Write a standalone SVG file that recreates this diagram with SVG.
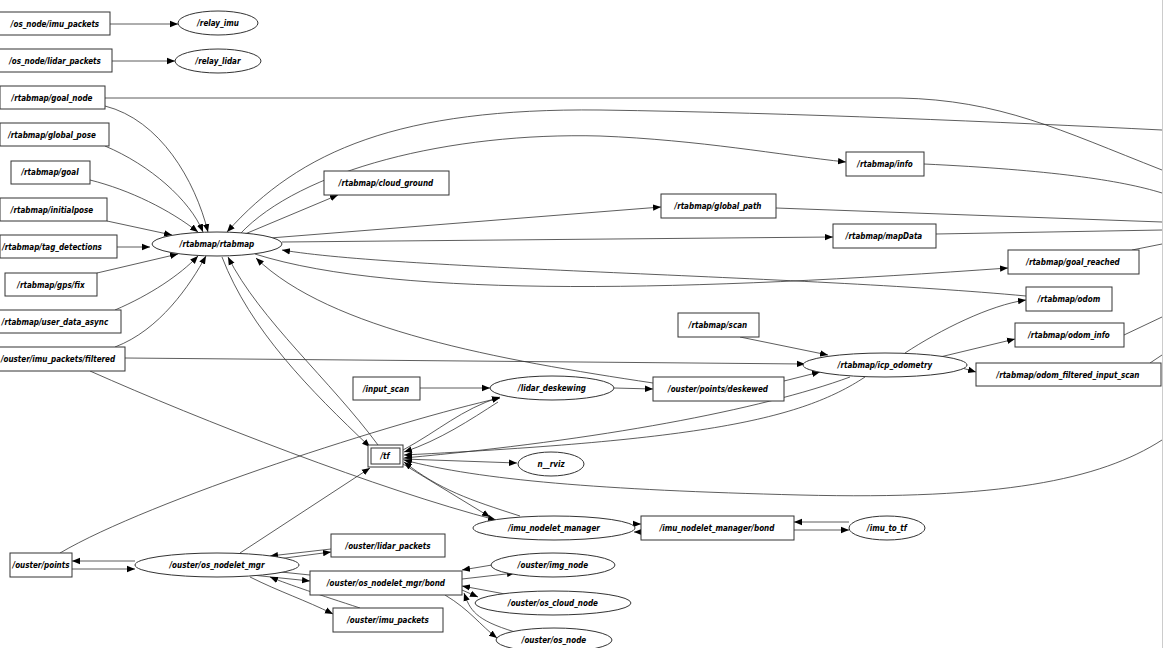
<svg xmlns="http://www.w3.org/2000/svg" width="1166" height="648" viewBox="0 0 1166 648">
<defs>
<marker id="a" viewBox="0 0 10 10" refX="10" refY="5" markerWidth="8" markerHeight="8" markerUnits="userSpaceOnUse" orient="auto"><path d="M0,1 L10,5 L0,9 z" fill="#000"/></marker>
<style>
.n rect,.n ellipse{fill:#fff;stroke:#333;stroke-width:1}
.n text{font-family:"DejaVu Sans Condensed","DejaVu Sans",sans-serif;font-size:8px;font-weight:bold;font-style:italic;text-anchor:middle;dominant-baseline:central;fill:#000}
#edges path{fill:none;stroke:#333;stroke-width:0.8}
.m{marker-end:url(#a)}
</style>
</defs>
<rect width="1166" height="648" fill="#fff"/>
<line x1="1162.5" y1="0" x2="1162.5" y2="648" stroke="#ccc"/>
<g id="edges">
<path class="m" d="M110,24 L178,24"/>
<path class="m" d="M112,61 L175,61"/>
<path class="m" d="M105,106 C160,120 195,180 208,232"/>
<path d="M105,98 L900,98 C1000,100 1060,130 1162,170"/>
<path class="m" d="M105,146 C150,165 190,200 203,232"/>
<path class="m" d="M90,180 C130,190 170,210 198,232"/>
<path class="m" d="M107,221 L172,235"/>
<path class="m" d="M117,247 L150,247"/>
<path class="m" d="M97,273 L178,254"/>
<path class="m" d="M115,310 C150,295 180,275 198,256"/>
<path class="m" d="M115,347 C160,330 190,285 206,256"/>
<path class="m" d="M125,358 L805,364"/>
<path class="m" d="M90,371 C200,420 380,490 496,520"/>
<path class="m" d="M1162,130 C1000,122 800,113 600,110 C400,108 300,150 227,232"/>
<path class="m" d="M245,234 L338,195"/>
<path class="m" d="M240,234 C300,170 450,132 600,136 C700,140 780,155 846,162"/>
<path d="M924,164 C1050,170 1120,180 1162,193"/>
<path class="m" d="M270,238 L661,207"/>
<path d="M776,208 L1162,222"/>
<path class="m" d="M282,242 L833,237"/>
<path d="M936,234 L1162,230"/>
<path class="m" d="M255,254 C400,300 700,290 1008,268"/>
<path d="M1132,250 L1162,244"/>
<path class="m" d="M1026,296 C800,275 400,270 282,250"/>
<path class="m" d="M905,353 C940,330 990,305 1026,300"/>
<path class="m" d="M940,357 L1015,339"/>
<path d="M1124,335 L1162,317"/>
<path class="m" d="M962,368 L976,372"/>
<path d="M1150,363 L1162,355"/>
<path class="m" d="M740,337 L828,355"/>
<path class="m" d="M653,383 C500,360 330,330 256,258"/>
<path class="m" d="M784,381 L820,372"/>
<path class="m" d="M420,388 L490,388"/>
<path class="m" d="M614,388 L653,389"/>
<path class="m" d="M378,445 C330,380 260,320 228,257"/>
<path class="m" d="M222,257 C250,330 310,390 370,447"/>
<path class="m" d="M403,450 C440,430 460,410 500,397"/>
<path class="m" d="M498,402 C470,420 440,440 404,452"/>
<path class="m" d="M865,377 C800,420 700,440 404,455"/>
<path class="m" d="M850,377 C760,410 600,440 404,458"/>
<path class="m" d="M403,459 L517,463"/>
<path class="m" d="M1162,440 C1100,480 1000,500 800,495 C600,490 480,480 404,460"/>
<path class="m" d="M403,464 L490,517"/>
<path class="m" d="M520,516 C470,500 440,490 404,462"/>
<path class="m" d="M635,524 L641,524"/>
<path class="m" d="M641,532 L634,532"/>
<path class="m" d="M849,522 L794,522"/>
<path class="m" d="M794,530 L849,530"/>
<path class="m" d="M60,553 C150,500 400,420 500,398"/>
<path class="m" d="M240,553 L370,468"/>
<path class="m" d="M135,561 L72,561"/>
<path class="m" d="M72,569 L135,569"/>
<path class="m" d="M331,549 L270,556"/>
<path class="m" d="M270,560 L331,552"/>
<path class="m" d="M310,575 L242,568"/>
<path class="m" d="M242,574 L310,581"/>
<path class="m" d="M360,608 C320,595 290,585 270,577"/>
<path class="m" d="M250,577 C280,592 305,600 333,614"/>
<path class="m" d="M510,562 L462,570"/>
<path class="m" d="M462,579 L515,573"/>
<path class="m" d="M505,594 L462,586"/>
<path class="m" d="M462,590 L478,597"/>
<path class="m" d="M515,632 C475,620 470,610 464,593"/>
<path class="m" d="M445,595 C470,610 480,625 497,638"/>
</g>
<g id="n1" class="n"><rect x="-2" y="12" width="112" height="23"/><text x="55" y="24">/os_node/imu_packets</text></g>
<g id="n2" class="n"><rect x="-2" y="49" width="114" height="23"/><text x="55" y="61">/os_node/lidar_packets</text></g>
<g id="n3" class="n"><ellipse cx="218" cy="23" rx="40" ry="12"/><text x="218" y="23">/relay_imu</text></g>
<g id="n4" class="n"><ellipse cx="218" cy="61" rx="43" ry="12"/><text x="218" y="61">/relay_lidar</text></g>
<g id="n5" class="n"><rect x="0" y="86" width="105" height="23"/><text x="52" y="98">/rtabmap/goal_node</text></g>
<g id="n6" class="n"><rect x="0" y="123" width="109" height="23"/><text x="52" y="135">/rtabmap/global_pose</text></g>
<g id="n7" class="n"><rect x="11" y="161" width="79" height="23"/><text x="50" y="172">/rtabmap/goal</text></g>
<g id="n8" class="n"><rect x="0" y="198" width="107" height="23"/><text x="52" y="210">/rtabmap/initialpose</text></g>
<g id="n9" class="n"><rect x="0" y="235" width="117" height="23"/><text x="52" y="247">/rtabmap/tag_detections</text></g>
<g id="n10" class="n"><rect x="5" y="273" width="92" height="23"/><text x="51" y="285">/rtabmap/gps/fix</text></g>
<g id="n11" class="n"><rect x="-2" y="310" width="123" height="23"/><text x="55" y="322">/rtabmap/user_data_async</text></g>
<g id="n12" class="n"><rect x="-2" y="347" width="127" height="24"/><text x="58" y="359">/ouster/imu_packets/filtered</text></g>
<g id="n13" class="n"><ellipse cx="217" cy="244" rx="65" ry="12"/><text x="217" y="244">/rtabmap/rtabmap</text></g>
<g id="n14" class="n"><rect x="324" y="171" width="125" height="24"/><text x="386" y="183">/rtabmap/cloud_ground</text></g>
<g id="n15" class="n"><rect x="846" y="152" width="78" height="24"/><text x="885" y="164">/rtabmap/info</text></g>
<g id="n16" class="n"><rect x="661" y="194" width="115" height="24"/><text x="718" y="206">/rtabmap/global_path</text></g>
<g id="n17" class="n"><rect x="833" y="224" width="103" height="24"/><text x="884" y="236">/rtabmap/mapData</text></g>
<g id="n18" class="n"><rect x="1008" y="250" width="131" height="24"/><text x="1073" y="262">/rtabmap/goal_reached</text></g>
<g id="n19" class="n"><rect x="1026" y="287" width="86" height="24"/><text x="1069" y="299">/rtabmap/odom</text></g>
<g id="n20" class="n"><rect x="678" y="313" width="81" height="24"/><text x="718" y="325">/rtabmap/scan</text></g>
<g id="n21" class="n"><rect x="1015" y="323" width="109" height="24"/><text x="1069" y="335">/rtabmap/odom_info</text></g>
<g id="n22" class="n"><ellipse cx="885" cy="365" rx="82" ry="12"/><text x="885" y="365">/rtabmap/icp_odometry</text></g>
<g id="n23" class="n"><rect x="976" y="363" width="185" height="23"/><text x="1068" y="375">/rtabmap/odom_filtered_input_scan</text></g>
<g id="n24" class="n"><rect x="353" y="377" width="67" height="23"/><text x="386" y="389">/input_scan</text></g>
<g id="n25" class="n"><ellipse cx="552" cy="388" rx="62" ry="12"/><text x="552" y="388">/lidar_deskewing</text></g>
<g id="n26" class="n"><rect x="653" y="377" width="131" height="24"/><text x="718" y="389">/ouster/points/deskewed</text></g>
<g id="n27" class="n"><rect x="368" y="445" width="35" height="22"/><rect x="371" y="448" width="29" height="16"/><text x="385" y="456">/tf</text></g>
<g id="n28" class="n"><ellipse cx="551" cy="464" rx="33" ry="12"/><text x="551" y="464">n__rviz</text></g>
<g id="n29" class="n"><ellipse cx="554" cy="528" rx="81" ry="12"/><text x="554" y="528">/imu_nodelet_manager</text></g>
<g id="n30" class="n"><rect x="641" y="516" width="153" height="24"/><text x="717" y="528">/imu_nodelet_manager/bond</text></g>
<g id="n31" class="n"><ellipse cx="887" cy="528" rx="38" ry="12"/><text x="887" y="528">/imu_to_tf</text></g>
<g id="n32" class="n"><rect x="10" y="553" width="62" height="24"/><text x="41" y="565">/ouster/points</text></g>
<g id="n33" class="n"><ellipse cx="217" cy="565" rx="82" ry="12"/><text x="217" y="565">/ouster/os_nodelet_mgr</text></g>
<g id="n34" class="n"><rect x="331" y="534" width="114" height="23"/><text x="388" y="546">/ouster/lidar_packets</text></g>
<g id="n35" class="n"><rect x="310" y="571" width="152" height="24"/><text x="386" y="583">/ouster/os_nodelet_mgr/bond</text></g>
<g id="n36" class="n"><ellipse cx="553" cy="565" rx="62" ry="12"/><text x="553" y="565">/ouster/img_node</text></g>
<g id="n37" class="n"><ellipse cx="553" cy="603" rx="78" ry="12"/><text x="553" y="603">/ouster/os_cloud_node</text></g>
<g id="n38" class="n"><rect x="333" y="608" width="110" height="24"/><text x="388" y="620">/ouster/imu_packets</text></g>
<g id="n39" class="n"><ellipse cx="554" cy="640" rx="58" ry="12"/><text x="554" y="640">/ouster/os_node</text></g>
</svg>
